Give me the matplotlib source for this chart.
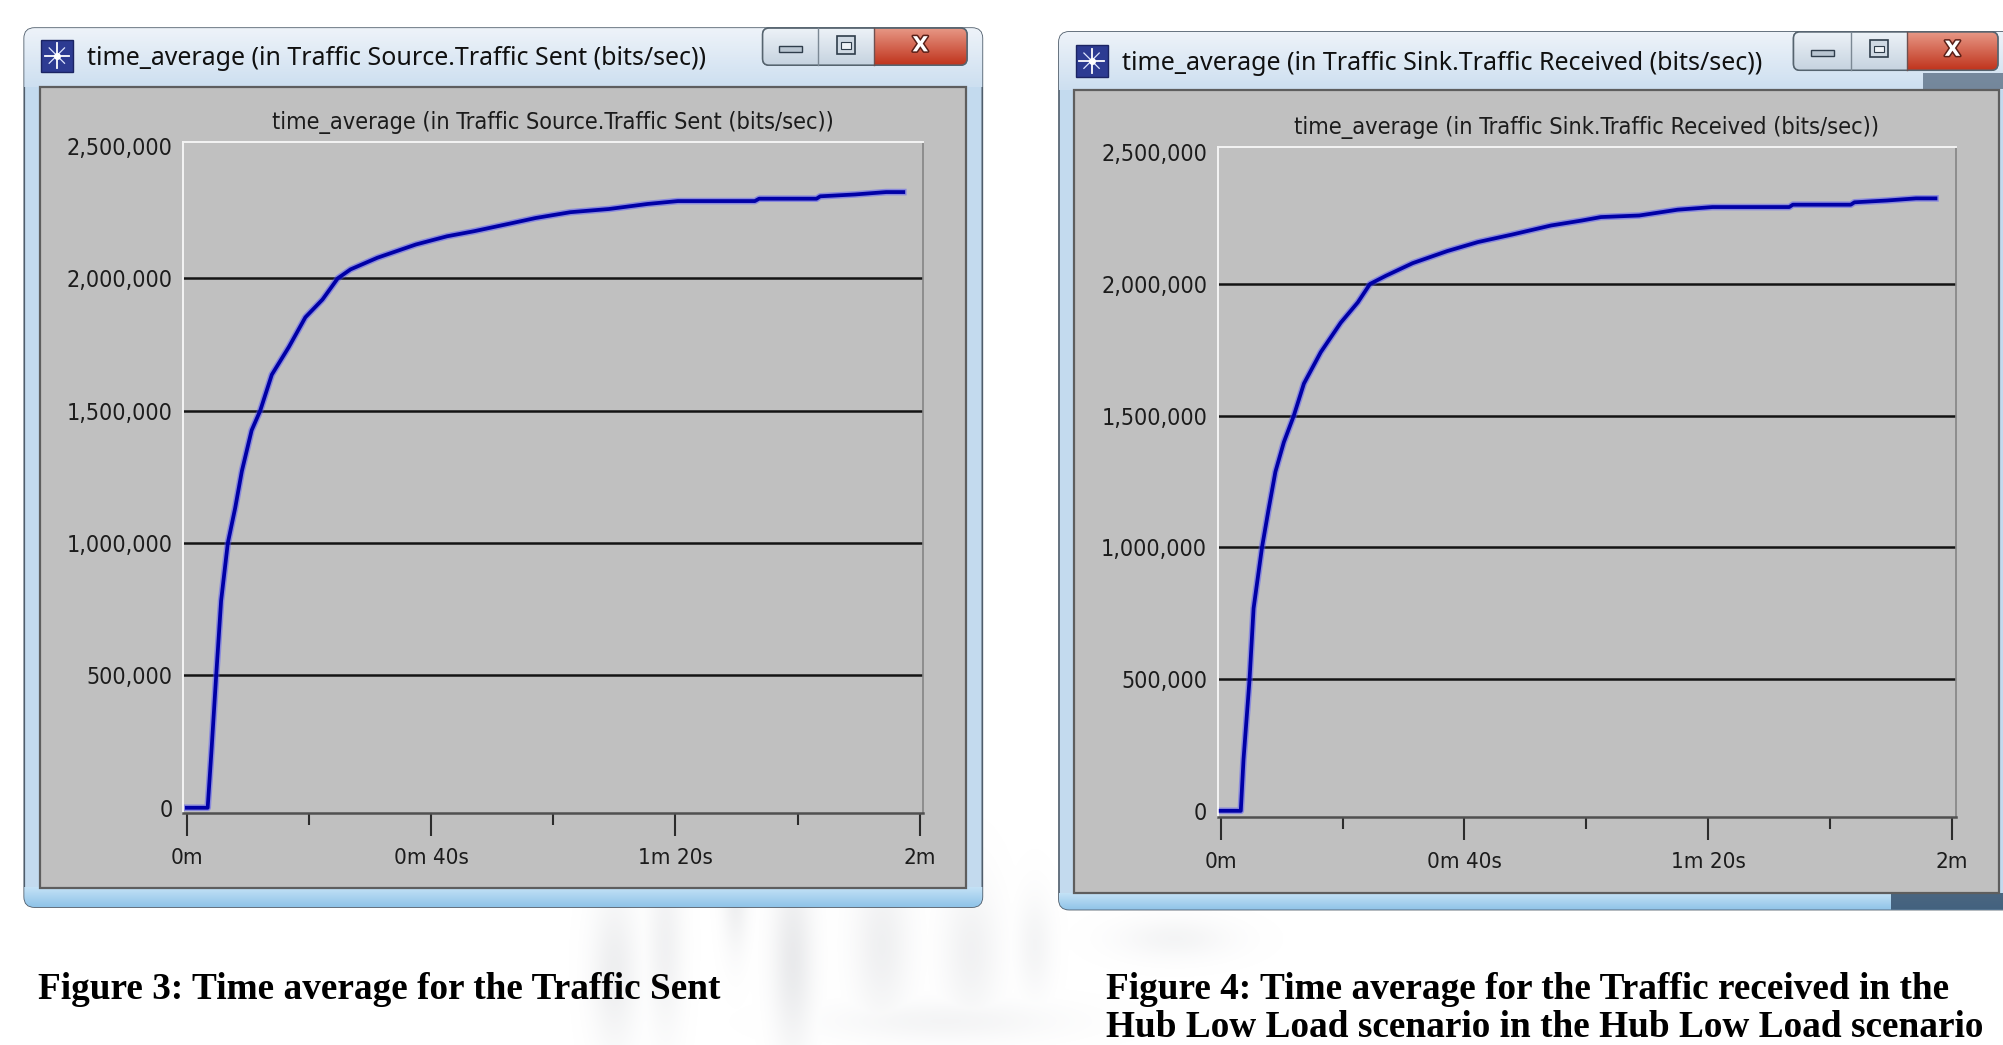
import numpy as np
import matplotlib
matplotlib.use("Agg")
import matplotlib.pyplot as plt
from matplotlib import font_manager
from matplotlib.font_manager import FontProperties
from matplotlib.patches import Rectangle, FancyBboxPatch
import matplotlib.patheffects as pe

# ---------------- data ----------------
sent_time_s = [0, 3.4, 4.0, 4.8, 5.6, 6.7, 7.9, 9.0, 10.6, 12.0, 13.9, 16.7, 19.4, 22.2, 24.7,
               26.8, 31.2, 37.5, 42.6, 47.0, 53.3, 57.1, 62.8, 69.1, 75.4, 80.4, 93.0, 93.7,
               103.1, 103.7, 109.4, 114.5, 117.3]
sent_bits_per_sec = [0, 0, 207000, 501000, 782000, 1000000, 1132000, 1272000, 1426000, 1500000,
                     1636000, 1741000, 1853000, 1920000, 2000000, 2034000, 2078000, 2128000,
                     2159000, 2178000, 2209000, 2228000, 2250000, 2262000, 2281000, 2292000,
                     2292000, 2301000, 2301000, 2310000, 2317000, 2326000, 2326000]

recv_time_s = [0, 3.3, 3.75, 4.74, 5.4, 6.78, 7.88, 8.98, 10.36, 12.0, 13.66, 16.42, 19.7, 22.5,
               24.5, 27.1, 31.5, 37.2, 42.2, 47.9, 54.2, 59.3, 62.4, 68.7, 75.0, 80.7, 93.3, 93.9,
               103.4, 104.0, 109.4, 114.1, 117.3]
recv_bits_per_sec = [0, 0, 196000, 500000, 769000, 1000000, 1147000, 1287000, 1399000, 1500000,
                     1622000, 1741000, 1853000, 1930000, 2000000, 2031000, 2079000, 2125000,
                     2159000, 2188000, 2222000, 2241000, 2254000, 2260000, 2282000, 2292000,
                     2292000, 2301000, 2301000, 2310000, 2317000, 2325000, 2325000]

y_ticks = [0, 500000, 1000000, 1500000, 2000000, 2500000]
y_tick_labels = ["0", "500,000", "1,000,000", "1,500,000", "2,000,000", "2,500,000"]
grid_values = [500000, 1000000, 1500000, 2000000]
x_major_ticks = [0, 40, 80, 120]
x_major_labels = ["0m", "0m 40s", "1m 20s", "2m"]
x_minor_ticks = [20, 60, 100]

window_title_sent = "time_average (in Traffic Source.Traffic Sent (bits/sec))"
window_title_recv = "time_average (in Traffic Sink.Traffic Received (bits/sec))"
chart_title_sent = "time_average (in Traffic Source.Traffic Sent (bits/sec))"
chart_title_recv = "time_average (in Traffic Sink.Traffic Received (bits/sec))"
caption_left = "Figure 3: Time average for the Traffic Sent"
caption_right_1 = "Figure 4: Time average for the Traffic received in the"
caption_right_2 = "Hub Low Load scenario in the Hub Low Load scenario"

# ---------------- figure / layout units ----------------
W, H = 2003, 1045
DW, DH = 1568.0, 818.0          # layout units (proportional to the output)
S = W / DW                       # output pixels per layout unit

fig = plt.figure(figsize=(W / 100, H / 100), dpi=100)
fig.patch.set_facecolor("white")
bg = fig.add_axes([0, 0, 1, 1], zorder=0)
bg.axis("off")
renderer = fig.canvas.get_renderer()

ttf = font_manager.fontManager.ttflist
names = {f.name for f in ttf}


def chart_font():
    if "Liberation Sans Narrow" in names:
        return FontProperties(family="Liberation Sans Narrow")
    if any(f.name == "DejaVu Sans" and "condensed" in str(f.stretch) for f in ttf):
        return FontProperties(family="DejaVu Sans", stretch="condensed")
    return FontProperties(family="Liberation Sans")


fp_chart = chart_font()
fp_bar = FontProperties(family="Noto Sans" if "Noto Sans" in names else "DejaVu Sans")
fp_cap = FontProperties(family="Liberation Serif" if "Liberation Serif" in names else "DejaVu Serif",
                        weight="bold")


def fit(s, target_units, fp):
    f = fp.copy()
    f.set_size(20)
    t = fig.text(0, 0, s, fontproperties=f)
    w = t.get_window_extent(renderer).width
    t.remove()
    return 20 * target_units * S / w


def with_size(fp, size):
    f = fp.copy()
    f.set_size(size)
    return f


def vgrad(c0, c1, n=64):
    c0 = np.array(matplotlib.colors.to_rgb(c0))
    c1 = np.array(matplotlib.colors.to_rgb(c1))
    g = np.linspace(0, 1, n)[:, None]
    return (c0[None, :] * (1 - g) + c1[None, :] * g)[:, None, :]


# faint, soft watermark behind the captions (decoration only)
wx0, wx1, wy0, wy1 = 420, 1010, 640, 818
gx, gy = np.meshgrid(np.linspace(wx0, wx1, 300), np.linspace(wy0, wy1, 120))
alpha = np.zeros_like(gx)
for (cx, cy, sx, sy, a) in [(480, 760, 18, 60, 0.22), (520, 740, 14, 70, 0.18),
                            (575, 700, 10, 45, 0.22), (620, 750, 16, 70, 0.28),
                            (690, 740, 22, 60, 0.20), (760, 745, 22, 55, 0.18),
                            (810, 740, 14, 40, 0.14), (920, 735, 45, 16, 0.14),
                            (740, 800, 90, 16, 0.14)]:
    alpha = np.maximum(alpha, a * np.exp(-(((gx - cx) / sx) ** 2 + ((gy - cy) / sy) ** 2)))
wm = np.zeros(gx.shape + (4,))
wm[..., 0] = 0.70
wm[..., 1] = 0.71
wm[..., 2] = 0.74
wm[..., 3] = alpha
bg.imshow(wm, extent=(wx0, wx1, wy1, wy0), aspect="auto", zorder=0.2, interpolation="bilinear")


def window(x0, y0, x1, y1, panel, btn, icon, title, title_xy, title_w, dark_right=False):
    frame = FancyBboxPatch((x0, y0), x1 - x0, y1 - y0,
                           boxstyle="round,pad=0,rounding_size=8",
                           fc="#c3daee", ec="#4f5d6b", lw=1.2, zorder=1)
    bg.add_patch(frame)
    px0, py0, px1, py1 = panel
    im = bg.imshow(vgrad("#eef3f9", "#cddff0"), extent=(x0, x1, py0, y0),
                   aspect="auto", zorder=1.1, interpolation="bilinear")
    im.set_clip_path(frame)
    im2 = bg.imshow(vgrad("#c4e2f6", "#8fc3e8"), extent=(x0, x1, y1, py1),
                    aspect="auto", zorder=1.1, interpolation="bilinear")
    im2.set_clip_path(frame)
    if dark_right:
        r1 = Rectangle((1480, py1), 120, y1 - py1, fc="#35506c", ec="none", alpha=0.85, zorder=1.2)
        bg.add_patch(r1)
        r1.set_clip_path(frame)
        r2 = Rectangle((1505, y0 + 32), 80, 13, fc="#4e6278", ec="none", alpha=0.7, zorder=1.2)
        bg.add_patch(r2)
    # inner grey panel
    bg.add_patch(Rectangle((px0, py0), px1 - px0, py1 - py0, fc="#c0c0c0",
                           ec="#5e5e5e", lw=1.6, zorder=1.5))
    # icon
    ix0, iy0, ix1, iy1 = icon
    bg.add_patch(Rectangle((ix0, iy0), ix1 - ix0, iy1 - iy0, fc="#2d3b92", ec="#1b2463", lw=1, zorder=2))
    cx, cy = (ix0 + ix1) / 2, (iy0 + iy1) / 2
    bg.plot([ix0 + 3, ix1 - 3], [cy, cy], color="white", lw=1.3, zorder=2.1)
    bg.plot([cx, cx], [iy0 + 3, iy1 - 3], color="white", lw=1.3, zorder=2.1)
    bg.plot([cx - 6, cx + 6], [cy - 6, cy + 6], color="#dfe6ff", lw=0.9, zorder=2.1)
    bg.plot([cx - 6, cx + 6], [cy + 6, cy - 6], color="#dfe6ff", lw=0.9, zorder=2.1)
    bg.plot([cx], [cy], marker="o", ms=4, color="white", zorder=2.2)
    # buttons
    bx0, bmin, bmax, bx1, by0, by1 = btn
    grp = FancyBboxPatch((bx0, by0), bx1 - bx0, by1 - by0,
                         boxstyle="round,pad=0,rounding_size=5",
                         fc="#d8e2ec", ec="#56646f", lw=1.1, zorder=3)
    bg.add_patch(grp)
    gim = bg.imshow(vgrad("#eef3f8", "#c6d3e0"), extent=(bx0, bmax, by1, by0),
                    aspect="auto", zorder=3.05, interpolation="bilinear")
    gim.set_clip_path(grp)
    cim = bg.imshow(vgrad("#e89a88", "#c0341d"), extent=(bmax, bx1, by1, by0),
                    aspect="auto", zorder=3.06, interpolation="bilinear")
    cim.set_clip_path(grp)
    bg.add_patch(FancyBboxPatch((bx0, by0), bx1 - bx0, by1 - by0,
                                boxstyle="round,pad=0,rounding_size=5",
                                fc="none", ec="#56646f", lw=1.1, zorder=3.2))
    bg.plot([bmin, bmin], [by0, by1], color="#7b8894", lw=1, zorder=3.2)
    bg.plot([bmax, bmax], [by0, by1], color="#6e5050", lw=1, zorder=3.2)
    mcx = (bx0 + bmin) / 2
    bg.add_patch(Rectangle((mcx - 9, by0 + 14), 18, 5, fc="#b9c5d1", ec="#2f3d4b", lw=1, zorder=3.3))
    xcx = (bmin + bmax) / 2
    bg.add_patch(Rectangle((xcx - 7, by0 + 6), 14, 14, fc="#cfd9e3", ec="#2f3d4b", lw=1.2, zorder=3.3))
    bg.add_patch(Rectangle((xcx - 4, by0 + 11), 8, 5, fc="#eef2f6", ec="#2f3d4b", lw=0.8, zorder=3.35))
    ccx = (bmax + bx1) / 2
    bg.text(ccx, (by0 + by1) / 2 - 1, "X", ha="center", va="center", color="white",
            fontsize=15, fontweight="bold", family="DejaVu Sans", zorder=3.4,
            path_effects=[pe.withStroke(linewidth=2.2, foreground="#5a2018")])
    # title
    fs = fit(title, title_w, fp_bar)
    bg.text(title_xy[0], title_xy[1], title, ha="left", va="center", color="#101010",
            fontproperties=with_size(fp_bar, fs), zorder=3)


def chart(rect, xlim, ylim, t, v, title, title_xy, title_w):
    l, tp, r, b = rect
    ax = fig.add_axes([l / DW, 1 - b / DH, (r - l) / DW, (b - tp) / DH], zorder=3)
    ax.set_facecolor("#c0c0c0")
    for g in grid_values:
        ax.axhline(g, color="#141414", lw=1.8, zorder=1)
    ax.plot(t, v, color="#4a4aff", lw=4.8, alpha=0.45, zorder=2, solid_joinstyle="round")
    ax.plot(t, v, color="#0000a6", lw=2.7, zorder=3, solid_joinstyle="round")
    ax.set_xlim(*xlim)
    ax.set_ylim(*ylim)
    ax.spines["left"].set_color("#f4f4f4")
    ax.spines["top"].set_color("#f4f4f4")
    ax.spines["left"].set_linewidth(1.4)
    ax.spines["top"].set_linewidth(1.4)
    ax.spines["right"].set_color("#858585")
    ax.spines["right"].set_linewidth(1.2)
    ax.spines["bottom"].set_color("#505050")
    ax.spines["bottom"].set_linewidth(1.8)

    ysz = fit("2,500,000", 82.5, fp_chart)
    xsz = fit("0m 40s", 58.5, fp_chart)
    ax.set_yticks(y_ticks)
    ax.set_yticklabels(y_tick_labels)
    ax.set_xticks(x_major_ticks)
    ax.set_xticklabels(x_major_labels)
    ax.set_xticks(x_minor_ticks, minor=True)
    ax.tick_params(axis="y", length=0, pad=7.5, labelcolor="#1c1c1c")
    ax.tick_params(axis="x", which="major", direction="out", length=16.3, width=1.5,
                   color="#2c2c2c", pad=9, labelcolor="#1c1c1c")
    ax.tick_params(axis="x", which="minor", direction="out", length=8.5, width=1.5,
                   color="#2c2c2c")
    for lbl in ax.get_yticklabels():
        lbl.set_fontproperties(with_size(fp_chart, ysz))
    for lbl in ax.get_xticklabels():
        lbl.set_fontproperties(with_size(fp_chart, xsz))
    ts = fit(title, title_w, fp_chart)
    bg.text(title_xy[0], title_xy[1], title, ha="center", va="center", color="#1c1c1c",
            fontproperties=with_size(fp_chart, ts), zorder=3)
    return ax


# windows (layout units)
window(19, 22, 769, 710, (31, 68, 756, 695), (597, 640, 684, 757, 22, 51), (32, 31, 57, 56),
       window_title_sent, (68, 46), 484)
window(829, 25, 1600, 712, (840.5, 70.5, 1565, 699), (1404, 1449, 1493, 1564, 25, 55),
       (842, 35, 867, 60), window_title_recv, (878, 49.5), 501, dark_right=True)

chart((143.3, 110.9, 722.4, 636.3), (-0.63, 120.5), (-19300, 2516400),
      sent_time_s, sent_bits_per_sec, chart_title_sent, (433, 96), 441)
chart((953.1, 114.8, 1531.5, 639.6), (-0.52, 120.73), (-23800, 2521300),
      recv_time_s, recv_bits_per_sec, chart_title_recv, (1242, 99.5), 458)

# captions
csz = fit(caption_left, 535, fp_cap)
fpc = with_size(fp_cap, csz)
bg.text(30, 782, caption_left, ha="left", va="baseline", color="black", fontproperties=fpc, zorder=2)
bg.text(865.5, 782, caption_right_1, ha="left", va="baseline", color="black", fontproperties=fpc, zorder=2)
bg.text(865.5, 812, caption_right_2, ha="left", va="baseline", color="black", fontproperties=fpc, zorder=2)

bg.set_xlim(0, DW)
bg.set_ylim(DH, 0)
fig.savefig("out.png", dpi=100, facecolor="white")
